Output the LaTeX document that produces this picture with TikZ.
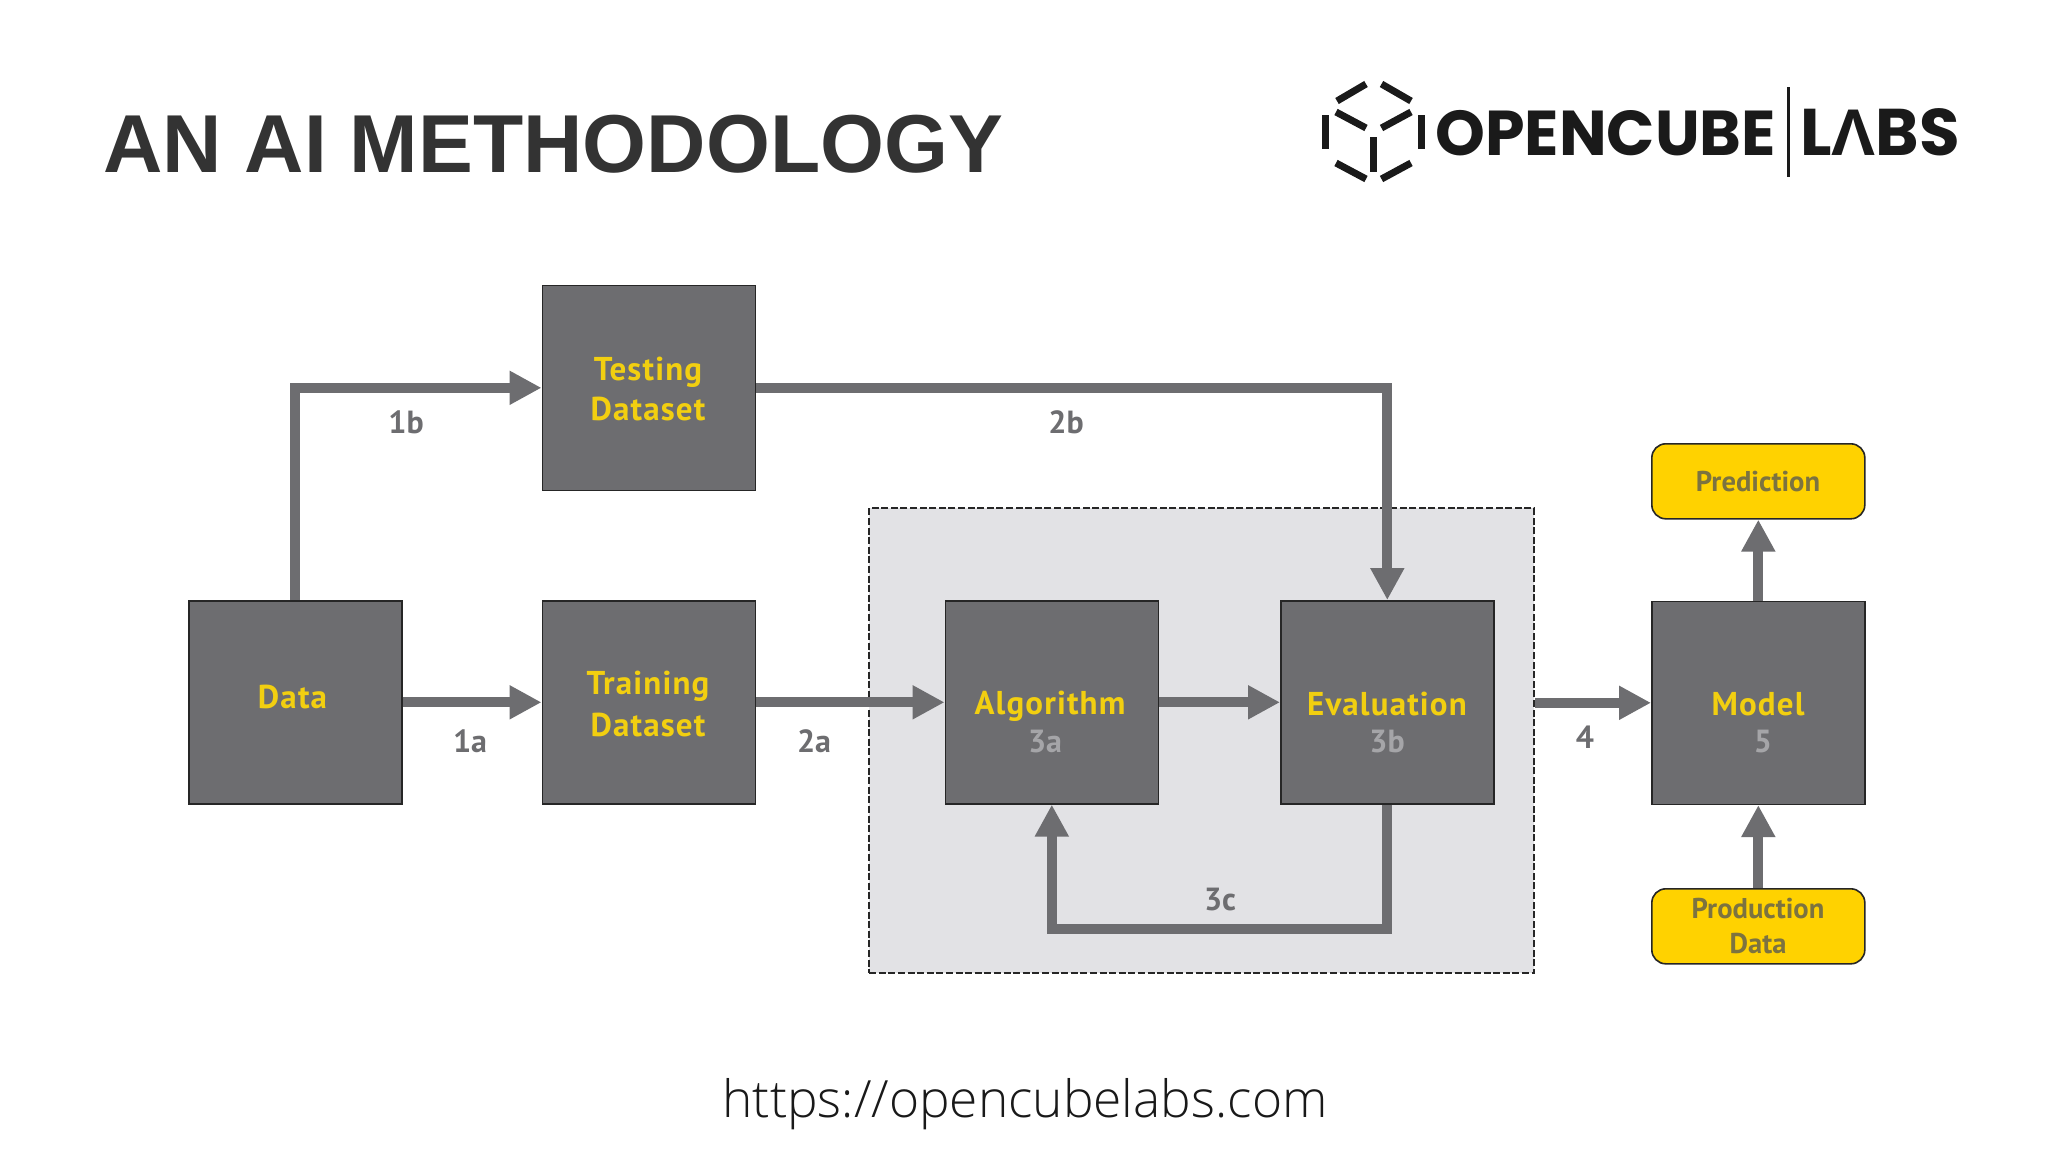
\documentclass[tikz,border=0pt]{standalone}
\usepackage{fontspec}
\usetikzlibrary{arrows.meta,calc}
\setmainfont{Liberation Sans}
\newfontfamily\dinfont{PT Sans}[LetterSpace=3.5]
\newfontfamily\dinplain{PT Sans}
\newfontfamily\logofont{Poppins}
\newfontfamily\urlfont{Open Sans Light}
\definecolor{boxgray}{HTML}{6D6D70}
\definecolor{grouphue}{HTML}{E2E2E5}
\definecolor{yelbox}{HTML}{FFD200}
\definecolor{yeltext}{HTML}{F2CF10}
\definecolor{subtext}{HTML}{A5A5A8}
\definecolor{oliv}{HTML}{7C7340}
\definecolor{ink}{HTML}{333333}
\definecolor{logoink}{HTML}{1A1A1A}
\tikzset{
  x=0.5pt,y=-0.5pt,
  darkbox/.style={draw=black!85,line width=0.8pt,fill=boxgray,minimum width=106.5pt,minimum height=101.5pt,inner sep=0pt},
  topbox/.style={darkbox,minimum height=102.5pt},
  yelnode/.style={draw=black!85,line width=0.8pt,fill=yelbox,rounded corners=7pt,minimum width=106.5pt,minimum height=37.5pt,inner sep=0pt},
  flow/.style={draw=boxgray,line width=5pt,-{Triangle[length=16pt,width=16pt]}},
  lbl/.style={font=\dinfont\bfseries\fontsize{16.5}{18}\selectfont,text=yeltext,inner sep=0pt},
  sub/.style={font=\dinplain\bfseries\fontsize{16}{18}\selectfont,text=subtext,inner sep=0pt},
  step label/.style={font=\dinplain\bfseries\fontsize{16}{18}\selectfont,text=boxgray,inner sep=0pt},
  yellbl/.style={font=\dinplain\bfseries\fontsize{14.3}{16}\selectfont,text=oliv,inner sep=0pt},
  logoseg/.style={draw=logoink,line width=3.5pt},
}
\begin{document}
\begin{tikzpicture}
\useasboundingbox (0,0) rectangle (2048,1152);
\fill[white] (0,0) rectangle (2048,1152);
% title
\node[anchor=base west,inner sep=0pt,text=ink,font=\bfseries\fontsize{41.1}{50}\selectfont] (title) at (103,172.5) {AN AI METHODOLOGY};
% logo
\foreach \a/\b/\c/\d in {1337/101/1366/84,1381.5/84/1411/101,1336/112/1366/128,1381.5/128/1411/112,1325.5/115/1325.5/149,1421/115/1421/149,1373.6/137/1373.6/172,1336/163/1366/179,1381.5/179/1411/163}
  \draw[logoseg] (\a,\b) -- (\c,\d);
\node[anchor=base west,inner sep=0pt,text=logoink,font=\logofont\bfseries\fontsize{31.7}{36}\selectfont] (logoa) at (1435,155) {OPENCUBE};
\draw[draw=logoink,line width=1.3pt] (1788.5,87) -- (1788.5,177);
\node[anchor=base west,inner sep=0pt,text=logoink,font=\logofont\bfseries\fontsize{33}{36}\selectfont] (logob) at (1800,155) {L{\rmfamily\bfseries Λ}BS};
% group
\node[draw=black!85,dash pattern=on 3.5pt off 1.3pt,line width=1.1pt,fill=grouphue,minimum width=332.5pt,minimum height=232.5pt,inner sep=0pt,anchor=north west] (group) at (868,507) {};
% boxes
\node[darkbox,anchor=north west] (data) at (188,600) {};
\node[topbox,anchor=north west] (testing) at (541.5,284.5) {};
\node[darkbox,anchor=north west] (training) at (541.5,600) {};
\node[darkbox,anchor=north west] (algo) at (944.5,600) {};
\node[darkbox,anchor=north west] (eval) at (1280,600) {};
\node[darkbox,anchor=north west] (model) at (1651,600.5) {};
\node[yelnode,anchor=north west] (pred) at (1651,443) {};
\node[yelnode,anchor=north west] (prod) at (1651,888) {};
\coordinate (looplow) at (1387,929);
% connectors
\draw[flow] (data.east) -- (training.west);
\draw[flow] (data.north) |- (testing.west);
\draw[flow] (testing.east) -| (eval.north);
\draw[flow] (training.east) -- (algo.west);
\draw[flow] (algo.east) -- (eval.west);
\draw[flow] (eval.south) |- (looplow) -| (algo.south);
\draw[flow] (group.east |- model.west) -- (model.west);
\draw[flow] (model.north) -- (pred.south);
\draw[flow] (prod.north) -- (model.south);
% box labels
\node[lbl] (t1) at (648,372) {Testing};
\node[lbl] (t2) at (648,409) {Dataset};
\node[lbl] (d1) at (292.5,697) {Data};
\node[lbl] (tr1) at (648,686) {Training};
\node[lbl] (tr2) at (648,725) {Dataset};
\node[lbl] (al1) at (1050,706) {Algorithm};
\node[sub] (al2) at (1045,742) {3a};
\node[lbl] (ev1) at (1387,704) {Evaluation};
\node[sub] (ev2) at (1387,742) {3b};
\node[lbl] (mo1) at (1758,704) {Model};
\node[sub] (mo2) at (1763,742) {5};
\node[yellbl] (pr1) at (1758,482) {Prediction};
\node[yellbl] (pd1) at (1758,909) {Production};
\node[yellbl] (pd2) at (1758,944) {Data};
% step labels
\node[step label] (s1b) at (406,422) {1b};
\node[step label] (s2b) at (1066,422) {2b};
\node[step label] (s1a) at (470,741) {1a};
\node[step label] (s2a) at (814,741) {2a};
\node[step label] (s4) at (1585,737) {4};
\node[step label] (s3c) at (1220,900) {3c};
% url
\node[text=black!90,inner sep=0pt,font=\urlfont\fontsize{25.7}{28}\selectfont] (url) at (1025,1104) {https://opencubelabs.com};
\end{tikzpicture}
\end{document}
